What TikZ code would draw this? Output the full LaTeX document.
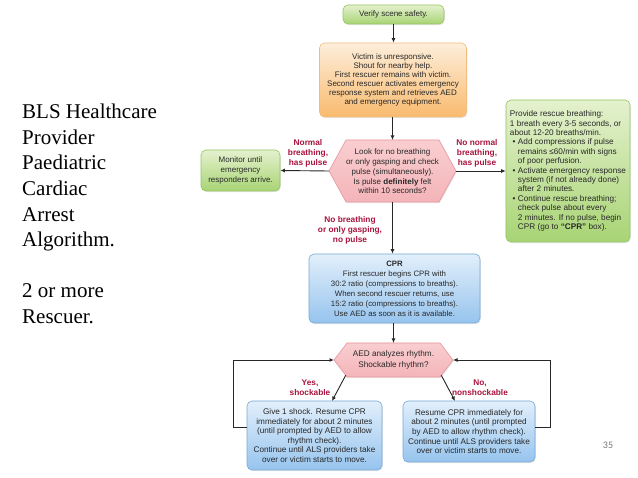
\documentclass[tikz,border=0pt]{standalone}
\usepackage{fontspec}
\setmainfont{Liberation Serif}
\setsansfont{Liberation Sans}
\newfontfamily\pagefont{Carlito}
\usetikzlibrary{arrows.meta,calc,shadows}
\definecolor{gTop}{RGB}{228,241,206}
\definecolor{gBot}{RGB}{168,212,116}
\definecolor{gDraw}{RGB}{150,196,100}
\definecolor{oTop}{RGB}{253,238,218}
\definecolor{oBot}{RGB}{249,186,110}
\definecolor{oDraw}{RGB}{240,190,130}
\definecolor{pTop}{RGB}{249,206,208}
\definecolor{pBot}{RGB}{244,180,185}
\definecolor{pDraw}{RGB}{230,150,158}
\definecolor{bTop}{RGB}{226,239,251}
\definecolor{bBot}{RGB}{150,196,238}
\definecolor{bDraw}{RGB}{120,168,214}
\definecolor{lblRed}{RGB}{168,20,62}
\definecolor{pgGray}{RGB}{120,120,120}
\definecolor{txtGray}{RGB}{40,40,40}
\begin{document}
\begin{tikzpicture}[x=1pt,y=-1pt,
  shad/.style={drop shadow={opacity=0.18, shadow xshift=0.8pt, shadow yshift=-1.2pt}},
  box/.style={rounded corners=5pt, draw, line width=0.6pt, align=center, inner sep=0pt, text=txtGray, shad},
  greenbox/.style={box, top color=gTop, bottom color=gBot, draw=gDraw},
  orangebox/.style={box, top color=oTop, bottom color=oBot, draw=oDraw},
  bluebox/.style={box, top color=bTop, bottom color=bBot, draw=bDraw},
  hexfill/.style={top color=pTop, bottom color=pBot, draw=pDraw, line width=0.6pt, shad},
  txt/.style={align=center, inner sep=0pt, text=txtGray},
  lbl/.style={align=center, inner sep=0pt, text=lblRed, font=\sffamily\bfseries\fontsize{8.3}{10}\selectfont},
  conn/.style={line width=0.9pt, draw=txtGray, -{Latex[length=4.5pt,width=4pt]}}
]
\useasboundingbox (0,0) rectangle (638,478);
\fill[white] (0,0) rectangle (638,478);

% left title text
\node[anchor=north west, align=left, inner sep=0pt, font=\fontsize{21}{25.6}\selectfont] (title) at (22,104)
  {BLS Healthcare\\Provider\\Paediatric\\Cardiac\\Arrest\\Algorithm.\\[25.6pt]2 or more\\Rescuer.};

% boxes
\node[greenbox, minimum width=101pt, minimum height=19pt, font=\sffamily\fontsize{8}{9}\selectfont] (verify) at (393.5,14.5) {Verify scene safety.};

\node[orangebox, minimum width=147pt, minimum height=74pt, font=\sffamily\fontsize{8}{8.9}\selectfont] (orange) at (393,80)
  {Victim is unresponsive.\\Shout for nearby help.\\First rescuer remains with victim.\\Second rescuer activates emergency\\response system and retrieves AED\\and emergency equipment.};

% hexagon 1
\coordinate (h1w) at (329,171);
\coordinate (h1nw) at (346,140);
\coordinate (h1ne) at (439,140);
\coordinate (h1e) at (456,171);
\coordinate (h1se) at (439,202);
\coordinate (h1sw) at (346,202);
\coordinate (h1n) at (392.5,140);
\coordinate (h1s) at (392.5,202);
\path[hexfill] (h1w) -- (h1nw) -- (h1ne) -- (h1e) -- (h1se) -- (h1sw) -- cycle;
\node[txt, font=\sffamily\fontsize{8}{9.7}\selectfont] (hexA) at (392.5,171.5)
  {Look for no breathing\\or only gasping and check\\pulse (simultaneously).\\Is pulse \textbf{definitely} felt\\within 10 seconds?};

\node[greenbox, minimum width=79pt, minimum height=41pt, font=\sffamily\fontsize{8}{10}\selectfont] (monitor) at (240.5,170.5)
  {Monitor until\\emergency\\responders arrive.};

\node[greenbox, align=left, minimum width=122pt, minimum height=142pt, inner xsep=4pt, font=\sffamily\fontsize{8.2}{9.4}\selectfont] (rescue) at (568,171)
  {Provide rescue breathing:\\
   1 breath every 3-5 seconds, or\\
   about 12-20 breaths/min.\\
   \makebox[8pt][c]{\textbullet}Add compressions if pulse\\
   \hspace*{8pt}remains ≤60/min with signs\\
   \hspace*{8pt}of poor perfusion.\\
   \makebox[8pt][c]{\textbullet}Activate emergency response\\
   \hspace*{8pt}system (if not already done)\\
   \hspace*{8pt}after 2 minutes.\\
   \makebox[8pt][c]{\textbullet}Continue rescue breathing;\\
   \hspace*{8pt}check pulse about every\\
   \hspace*{8pt}2 minutes. If no pulse, begin\\
   \hspace*{8pt}CPR (go to \textbf{“CPR”} box).};

\node[bluebox, minimum width=171pt, minimum height=69pt, font=\sffamily\fontsize{7.8}{10}\selectfont] (cpr) at (394.5,288.5)
  {\textbf{CPR}\\First rescuer begins CPR with\\30:2 ratio (compressions to breaths).\\When second rescuer returns, use\\15:2 ratio (compressions to breaths).\\Use AED as soon as it is available.};

% hexagon 2
\coordinate (h2w) at (334,360);
\coordinate (h2nw) at (347,343);
\coordinate (h2ne) at (440,343);
\coordinate (h2e) at (453,360);
\coordinate (h2se) at (440,377);
\coordinate (h2sw) at (347,377);
\coordinate (h2n) at (393.5,343);
\path[hexfill] (h2w) -- (h2nw) -- (h2ne) -- (h2e) -- (h2se) -- (h2sw) -- cycle;
\node[txt, font=\sffamily\fontsize{8.2}{11}\selectfont] (hexB) at (393.5,360)
  {AED analyzes rhythm.\\Shockable rhythm?};

\node[bluebox, minimum width=135pt, minimum height=69pt, font=\sffamily\fontsize{8.2}{9.6}\selectfont] (lbox) at (314.5,435.5)
  {Give 1 shock. Resume CPR\\immediately for about 2 minutes\\(until prompted by AED to allow\\rhythm check).\\Continue until ALS providers take\\over or victim starts to move.};

\node[bluebox, minimum width=132pt, minimum height=61pt, font=\sffamily\fontsize{8.2}{9.6}\selectfont] (rbox) at (469,431.5)
  {Resume CPR immediately for\\about 2 minutes (until prompted\\by AED to allow rhythm check).\\Continue until ALS providers take\\over or victim starts to move.};

% labels
\node[lbl] (l1) at (308,153) {Normal\\breathing,\\has pulse};
\node[lbl] (l2) at (477,153) {No normal\\breathing,\\has pulse};
\node[lbl] (l3) at (350,230) {No breathing\\or only gasping,\\no pulse};
\node[lbl] (l4) at (310,387.5) {Yes,\\shockable};
\node[lbl] (l5) at (480,387.5) {No,\\nonshockable};

\node[inner sep=0pt, text=pgGray, font=\pagefont\fontsize{10}{12}\selectfont] (pg) at (608,445) {35};

% connectors
\draw[conn] (verify.south) -- (verify.south |- orange.north);
\draw[conn] (orange.south -| h1n) -- (h1n);
\draw[conn] (h1w) -- (monitor.east);
\draw[conn] (h1e) -- (rescue.west |- h1e);
\draw[conn] (h1s) -- (h1s |- cpr.north);
\draw[conn] (cpr.south -| h2n) -- (h2n);
\coordinate (la) at (332,401);
\coordinate (ra) at (455,401);
\draw[conn] ($(h2w)!0.9!(h2sw)$) -- (la);
\draw[conn] ($(h2e)!0.9!(h2se)$) -- (ra);
\coordinate (lc1) at (233,427);
\coordinate (lc2) at (233,360);
\coordinate (rc1) at (550,427);
\coordinate (rc2) at (550,360);
\draw[conn] (lbox.west |- lc1) -- (lc1) -- (lc2) -- (h2w);
\draw[conn] (rbox.east |- rc1) -- (rc1) -- (rc2) -- (h2e);
\end{tikzpicture}
\end{document}
